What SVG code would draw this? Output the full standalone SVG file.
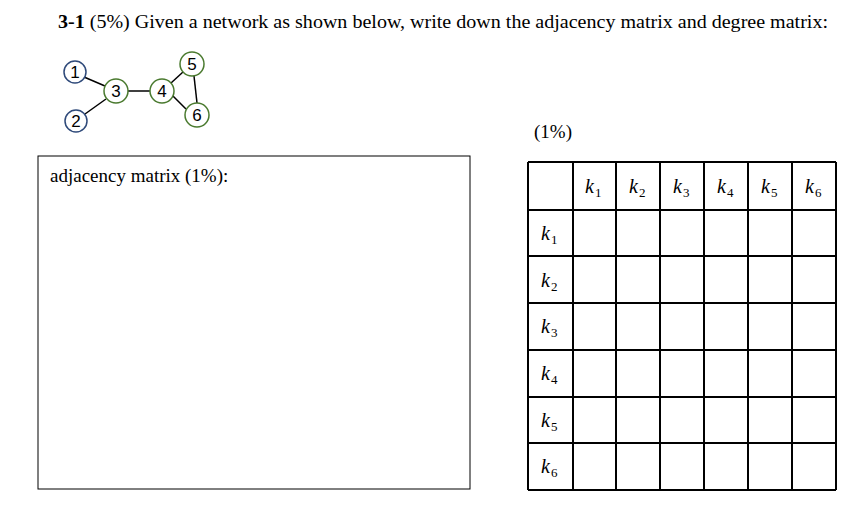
<svg xmlns="http://www.w3.org/2000/svg" width="856" height="510" viewBox="0 0 856 510">
<style>
.t{font-family:"Liberation Serif",serif;font-size:19px;fill:#000}
.n circle{fill:#fff;stroke-width:1.5}
.b circle{stroke:#2f4a7a}.g circle{stroke:#4a7a2f}
.n text{font-family:"Liberation Sans",sans-serif;font-size:17px;text-anchor:middle}
.k{font-family:"Liberation Serif",serif;font-style:italic;font-size:20px}
.s{font-family:"Liberation Serif",serif;font-size:13px;font-style:normal}
.c{fill:none;stroke:#000;stroke-width:2}
</style>
<rect width="856" height="510" fill="#fff"/>
<text class="t" x="58" y="28" textLength="770" lengthAdjust="spacingAndGlyphs"><tspan font-weight="bold">3-1</tspan> (5%) Given a network as shown below, write down the adjacency matrix and degree matrix:</text>
<g id="edges" stroke="#000" stroke-width="1.5">
<line x1="84" y1="77" x2="105" y2="86"/><line x1="85" y1="114" x2="106" y2="99"/>
<line x1="128" y1="91" x2="150" y2="91"/><line x1="171" y1="83" x2="183" y2="72"/>
<line x1="173" y1="96" x2="186" y2="109"/><line x1="194" y1="76" x2="197" y2="103"/>
</g>
<g id="node1" class="n b"><circle cx="75" cy="72" r="11"/><text x="75" y="78">1</text></g>
<g id="node2" class="n b"><circle cx="76" cy="121" r="11"/><text x="76" y="127">2</text></g>
<g id="node3" class="n g"><circle cx="116" cy="91" r="12"/><text x="116" y="97">3</text></g>
<g id="node4" class="n g"><circle cx="162" cy="91" r="12"/><text x="162" y="97">4</text></g>
<g id="node5" class="n g"><circle cx="192" cy="64" r="12"/><text x="192" y="70">5</text></g>
<g id="node6" class="n g"><circle cx="197" cy="115" r="12"/><text x="197" y="121">6</text></g>
<text class="t" x="534" y="138">(1%)</text>
<rect x="38" y="156" width="432" height="333" fill="none" stroke="#000" stroke-width="1"/>
<text class="t" x="50" y="182">adjacency matrix (1%):</text>
<g id="table">
<path class="c" d="M528 162H836M528 210H836M528 256H836M528 303H836M528 350H836M528 397H836M528 443H836M528 490H836M528 162V490M573 162V490M616 162V490M660 162V490M704 162V490M748 162V490M792 162V490M836 162V490"/>
<g class="k">
<text x="585" y="193">k<tspan class="s" dx="1" dy="4">1</tspan></text>
<text x="629" y="193">k<tspan class="s" dx="1" dy="4">2</tspan></text>
<text x="673" y="193">k<tspan class="s" dx="1" dy="4">3</tspan></text>
<text x="717" y="193">k<tspan class="s" dx="1" dy="4">4</tspan></text>
<text x="761" y="193">k<tspan class="s" dx="1" dy="4">5</tspan></text>
<text x="805" y="193">k<tspan class="s" dx="1" dy="4">6</tspan></text>
<text x="541" y="240">k<tspan class="s" dx="1" dy="4">1</tspan></text>
<text x="541" y="287">k<tspan class="s" dx="1" dy="4">2</tspan></text>
<text x="541" y="333">k<tspan class="s" dx="1" dy="4">3</tspan></text>
<text x="541" y="380">k<tspan class="s" dx="1" dy="4">4</tspan></text>
<text x="541" y="427">k<tspan class="s" dx="1" dy="4">5</tspan></text>
<text x="541" y="473">k<tspan class="s" dx="1" dy="4">6</tspan></text>
</g>
</g>
</svg>
